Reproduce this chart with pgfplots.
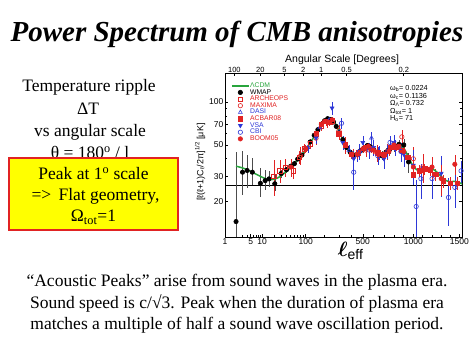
\documentclass[border=0pt]{standalone}
\usepackage{pgfplots}
\pgfplotsset{compat=1.18}
\usepackage{pgfplotstable}
\usepackage{fontspec}
\usepackage{bm}
\setmainfont{Liberation Serif}
\newfontfamily\arial{Liberation Sans}
\definecolor{cred}{RGB}{225,35,35}
\definecolor{cblue}{RGB}{45,55,215}
\definecolor{cgreen}{RGB}{40,165,60}
\definecolor{cyellow}{RGB}{255,255,0}

\pgfplotstableread{
l v
2 35.5
3 34.5
4 33.5
5 32.6
6 31.8
8 30.6
10 29.7
13 28.8
16 28.5
20 28.7
25 29.4
30 30.4
40 32.6
50 34.9
60 37.2
70 39.4
85 42.8
100 46.3
120 51.6
140 57.3
160 63.3
180 68.9
200 73.5
220 76.4
240 76.5
260 73.8
280 68.9
300 62.9
330 54.5
360 48.2
390 44.2
420 42.5
450 43.1
480 45.4
510 47.9
540 49.4
570 49.2
600 47.5
640 44.4
680 42.7
720 43.4
760 46.0
800 48.7
840 50.1
880 49.3
920 45.0
960 39.5
1000 35.5
1050 33.0
1100 33.0
1150 33.8
1200 34.0
1250 32.4
1300 30.0
1350 28.2
1400 27.6
1450 27.8
1500 27.2
1530 26.6
}\lcdm

\pgfplotstableread{
l v ep em
2 14.5 30 13
3 32.2 13 10
4 33.1 9.5 8
5.5 32.2 8 6
9 26.9 7.5 5.5
12 28.1 5 4
15 28.9 4 3.5
21 26.7 4 3
30 31.5 2 2
40 33.5 1.5 1.5
50 35.5 1.5 1.5
60 37 1.5 1.5
70 39.8 1.5 1.5
85 42.5 1.5 1.5
100 47 1.5 1.5
120 52.5 1.5 1.5
140 58.5 1.5 1.5
160 64 1.5 1.5
180 70 1.5 1.5
200 74 1.5 1.5
220 76.5 1.5 1.5
240 75.5 1.5 1.5
260 72.5 1.5 1.5
280 67.5 1.5 1.5
300 61 1.5 1.5
330 54.5 1.5 1.5
360 48 1.5 1.5
390 44.5 1.5 1.5
420 42.5 2 2
450 43 2 2
480 45.5 2 2
510 47.5 2 2
540 49.5 2 2
570 48.5 2 2
600 46.5 2.5 2.5
640 44 2.5 2.5
680 42 3 3
720 44.5 3 3
760 47 3.5 3.5
800 48.5 4 4
850 50.5 4 4
900 50 5 5
950 38 6 6
}\wmap

\pgfplotstableread{
l v ep em
20 30 9 8
28 33 6 6
38 35 5 5
56 32.9 4 4
75 41 4 4
95 47 4 4
120 51 4 4
150 60 5 5
180 68 5 5
210 73 5 5
250 74 5 5
300 60 6 6
350 50 7 7
}\archeops

\pgfplotstableread{
l v ep em
80 42 6 6
150 55.8 6 6
220 72 6 6
300 63 6 6
420 42 5 5
530 46 5 5
630 44 6 6
730 45 6 6
880 57 7 7
1000 40 8 8
1100 35 8 8
}\maxima

\pgfplotstableread{
l v ep em
110 48 4 4
170 66 4 4
230 75 4 4
300 61 4 4
380 46 4 4
450 42 4 4
580 56 6 6
650 44 5 5
730 45 5 5
810 48 6 6
}\dasi

\pgfplotstableread{
l v ep em
180 70 4 4
230 72 4 4
300 60 3 3
350 50 3 3
400 43 3 3
460 44 3 3
520 48 3 3
580 47 3 3
640 44 3 3
700 43 3 3
760 48 3 3
820 48 3 3
880 46 3 3
940 41 3 3
1000 30.8 3 3
1060 33 3 3
1120 34 3 3
1180 33.4 3 3
1240 31 3 3
1320 28 3 3
1400 27 3 3
1480 27 3 3
}\acbar

\pgfplotstableread{
l v ep em
150 56 5 5
250 90.8 10 10
330 52 6 6
420 40 5 5
500 52 6 6
600 48 6 6
700 40 6 6
800 52 7 7
900 43 8 8
1000 36 10 10
1300 31.6 10 10
}\vsa

\pgfplotstableread{
l v ep em
320 71 6 6
420 32.2 8 8
470 45 6 6
560 46 6 6
640 42 6 6
760 52 6 6
870 45 7 7
1030 18.5 10 8
1080 29 8 8
1200 29 8 8
1380 21.4 8 8
1450 25.2 7 7
1520 32.9 6 6
}\cbi

\pgfplotstableread{
l v ep em
50 35 5 5
100 47 3 3
150 60 3 3
200 73 3 3
250 75 3 3
300 60 3 3
350 50 3 3
400 43 3 3
450 43 3 3
500 47 3 3
550 49 3 3
600 46 3 3
650 43 3 3
700 42 3 3
750 45 3 3
800 50 3 3
850 49 3 3
900 45 3 3
1000 35 4 4
1100 33 5 5
1200 35 6 6
1300 29 7 7
1450 36.6 6 6
}\boom

\pgfplotsset{
  cmbx/.style={
    x coord trafo/.code={\pgfmathparse{ln(##1)+##1/200}},
    xmin=1, xmax=1530,
    scale only axis, width=237pt, height=164pt,
    at={(225pt,118pt)}, anchor=south west,
  },
  ds/.style={only marks, mark size=2.2pt, line width=0.6pt,
    error bars/y dir=both, error bars/y explicit, error bars/error mark=none,
    error bars/error bar style={line width=0.5pt, #1}},
}

\begin{document}
\begin{tikzpicture}
\path[use as bounding box, fill=white] (0,0) rectangle (474pt,355pt);

% Title
\node[anchor=base, font=\fontsize{29}{29}\selectfont\bfseries\itshape, inner sep=0pt] at (237pt,313pt) {Power Spectrum of CMB anisotropies};

% left text
\begin{scope}[every node/.style={anchor=base, inner sep=0pt, font=\fontsize{17.5}{17.5}\selectfont}]
\node at (89pt,263pt) {Temperature ripple};
\node at (88pt,240pt) {ΔT};
\node at (90pt,218pt) {vs angular scale};
\node at (90pt,196pt) {θ = 180\textsuperscript{o} / l};
\end{scope}

% yellow box
\draw[cred, line width=2pt, fill=cyellow] (9pt,125pt) rectangle (178pt,197pt);
\begin{scope}[every node/.style={anchor=base, inner sep=0pt, font=\fontsize{17.5}{17.5}\selectfont}]
\node at (93.5pt,175pt) {Peak at 1\textsuperscript{o} scale};
\node at (95.5pt,154pt) {=>\, Flat geometry,};
\node at (93.5pt,133pt) {Ω\textsubscript{tot}=1};
\end{scope}

% bottom text
\begin{scope}[every node/.style={anchor=base, inner sep=0pt, font=\fontsize{17.5}{17.5}\selectfont}]
\node at (237pt,68pt) {“Acoustic Peaks” arise from sound waves in the plasma era.};
\node at (237pt,46.5pt) {Sound speed is c/√3. Peak when the duration of plasma era};
\node at (237pt,25.5pt) {matches a multiple of half a sound wave oscillation period.};
\end{scope}

% top axis (angular scale)
\begin{axis}[cmbx,
  ymin=0, ymax=1,
  axis x line*=top, axis y line=none,
  xtick={1.8,9,36,90,180,360,900},
  xticklabels={100,20,5,2,1,0.5,0.2},
  tick align=inside, major tick length=3pt,
  tick style={black, line width=0.6pt},
  axis line style={black, line width=0.7pt},
  ticklabel style={font=\arial\fontsize{7.5}{7.5}\selectfont, inner sep=0.5pt},
  /pgf/number format/assume math mode=true,
  xlabel={Angular Scale [Degrees]},
  xlabel style={font=\arial\fontsize{10.5}{10.5}\selectfont, at={(axis description cs:0.494,1.082)}, anchor=center},
]
\addplot[draw=none] coordinates {(10,0.5)};
\end{axis}

% main axis
\begin{axis}[cmbx,
  ymode=log, ymin=11.3, ymax=160,
  xtick={1,5,10,100,500,1000,1500},
  xticklabels={1,5,10,100,500,1000,1500},
  minor xtick={2,3,4,6,7,8,9,20,30,40,50,60,70,80,90,200,300,400,600,700,800,900,1100,1200,1300,1400},
  ytick={20,30,50,70,100},
  yticklabels={20,30,50,70,100},
  minor ytick={40,60,80,90},
  xtick pos=left, ytick pos=both, yticklabel pos=left,
  tick align=inside, major tick length=3pt, minor tick length=1.8pt,
  tick style={black, line width=0.6pt},
  axis line style={black, line width=0.7pt},
  ticklabel style={font=\arial\fontsize{8.5}{8.5}\selectfont, inner sep=1.5pt},
  /pgf/number format/assume math mode=true,
  ylabel={[ℓ(ℓ+1)C\textsubscript{ℓ}/2π]\textsuperscript{1/2} [μK]},
  ylabel style={font=\arial\fontsize{9}{9}\selectfont, at={(axis description cs:-0.105,0.457)}, anchor=center},
  xlabel={$\bm{\ell}$\textsubscript{\arial eff}},
  xlabel style={font=\fontsize{20}{20}\selectfont, at={(axis description cs:0.53,-0.085)}, anchor=center},
  legend style={at={(axis description cs:0.025,0.945)}, anchor=north west, draw=none, fill=none,
    font=\arial\fontsize{6.8}{6.8}\selectfont, row sep=-0.6pt, inner sep=0pt, nodes={inner sep=0.5pt}},
  legend cell align=left,
  clip=true,
]
\addlegendimage{cgreen, line width=1.4pt}
\addlegendentry{\textcolor{cgreen}{ΛCDM}}

\addplot[black, line width=0.5pt, forget plot] coordinates {(1,26.2) (1530,26.2)};

\addplot[ds=black!70, mark=*, black, mark options={fill=black}]
  table[x=l, y=v, y error plus=ep, y error minus=em] {\wmap};
\addlegendentry{WMAP}
\addplot[ds=cred, mark=square, cred]
  table[x=l, y=v, y error plus=ep, y error minus=em] {\archeops};
\addlegendentry{\textcolor{cred}{ARCHEOPS}}
\addplot[ds=cred, mark=o, cred]
  table[x=l, y=v, y error plus=ep, y error minus=em] {\maxima};
\addlegendentry{\textcolor{cred}{MAXIMA}}
\addplot[ds=cblue, mark=triangle, cblue]
  table[x=l, y=v, y error plus=ep, y error minus=em] {\dasi};
\addlegendentry{\textcolor{cblue}{DASI}}
\addplot[ds=cred, mark=square*, cred, mark options={fill=cred}]
  table[x=l, y=v, y error plus=ep, y error minus=em] {\acbar};
\addlegendentry{\textcolor{cred}{ACBAR08}}
\addplot[ds=cblue, mark=triangle*, cblue, mark options={fill=cblue, rotate=180}]
  table[x=l, y=v, y error plus=ep, y error minus=em] {\vsa};
\addlegendentry{\textcolor{cblue}{VSA}}
\addplot[ds=cblue, mark=o, cblue]
  table[x=l, y=v, y error plus=ep, y error minus=em] {\cbi};
\addlegendentry{\textcolor{cblue}{CBI}}
\addplot[ds=cred, mark=*, cred, mark options={fill=cred}]
  table[x=l, y=v, y error plus=ep, y error minus=em] {\boom};
\addlegendentry{\textcolor{cred}{BOOM05}}

\addplot[cgreen, line width=1.5pt, smooth, no marks, forget plot] table[x=l, y=v] {\lcdm};

\node[anchor=north west, align=left, inner sep=0pt, font=\arial\fontsize{7.3}{7.6}\selectfont]
  at (axis description cs:0.696,0.925)
  {ω\textsubscript{b}= 0.0224\\ ω\textsubscript{c}= 0.1136\\ Ω\textsubscript{Λ}= 0.732\\ Ω\textsubscript{tot}= 1\\ H\textsubscript{o}= 71};
\node[anchor=center, inner sep=0pt, font=\arial\fontsize{4.5}{4.5}\selectfont]
  at (axis description cs:0.857,-0.122) {Ned Wright - 03 Mar 2008};
\end{axis}
\end{tikzpicture}
\end{document}
